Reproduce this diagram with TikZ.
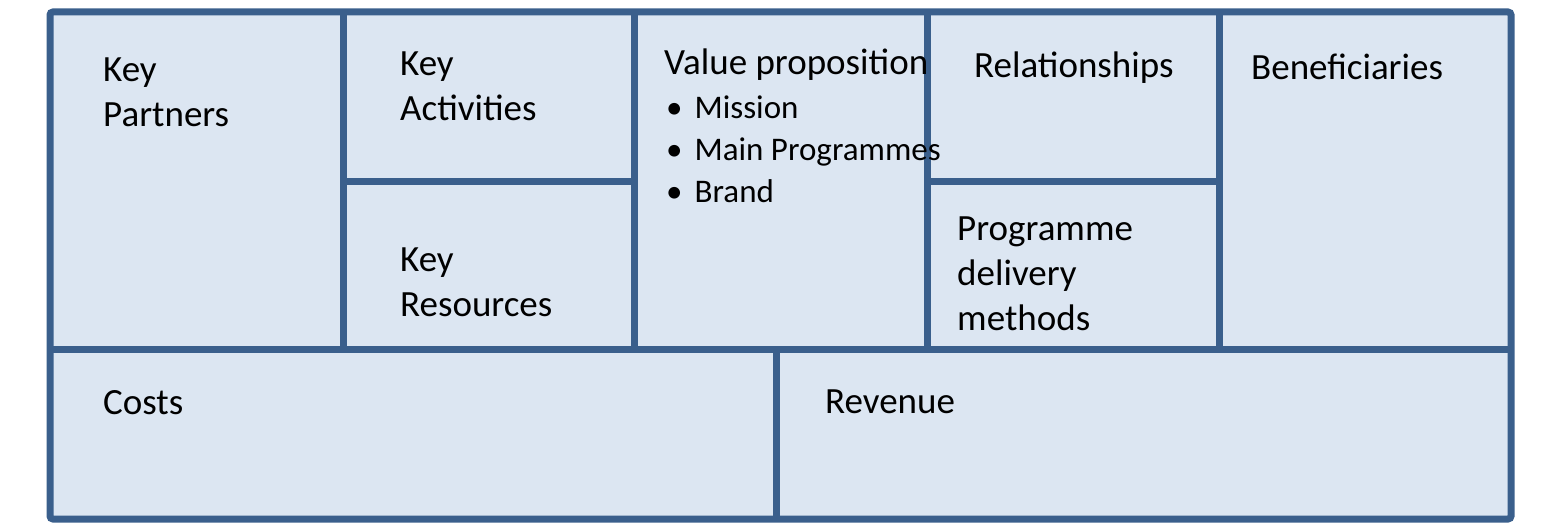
\documentclass[tikz,border=0pt]{standalone}
\usepackage{fontspec}
\setmainfont{Carlito}
\definecolor{bd}{HTML}{3A5F8C}
\definecolor{fl}{HTML}{DCE6F2}
\tikzset{cell/.style={draw=bd,line width=7pt,fill=fl},
lab/.style={anchor=north west,align=left,font=\fontsize{37}{45}\selectfont,inner sep=0pt}}
\newcommand\bul{\textbullet\hspace{12pt}}
\begin{document}
\begin{tikzpicture}[x=1pt,y=-1pt]
\useasboundingbox (0,0) rectangle (1541,524);
\draw[cell,rounded corners=3pt] (50,12) rectangle (1511,519);
\draw[bd,line width=7pt] (50,349) -- (1511,349)
 (343,12) -- (343,349) (634,12) -- (634,349) (927,12) -- (927,349) (1219,12) -- (1219,349)
 (343,181) -- (634,181) (927,181) -- (1219,181) (776,349) -- (776,519);
\node[lab] (kp) at (103,58) {Key\\Partners};
\node[lab] (ka) at (400,52) {Key\\Activities};
\node[lab] (kr) at (400,248) {Key\\Resources};
\node[lab] (vp) at (664,49) {Value proposition};
\node[anchor=north west,inner sep=0pt,font=\fontsize{33}{42}\selectfont,align=left] (bl) at (666,96)
 {\bul Mission\\\bul Main Programmes\\\bul Brand};
\node[lab] (rl) at (974,52) {Relationships};
\node[lab] (pd) at (957,217) {Programme\\delivery\\methods};
\node[lab] (bn) at (1251,54) {Beneficiaries};
\node[lab] (co) at (103,390) {Costs};
\node[lab] (rv) at (825,390) {Revenue};
\end{tikzpicture}
\end{document}
